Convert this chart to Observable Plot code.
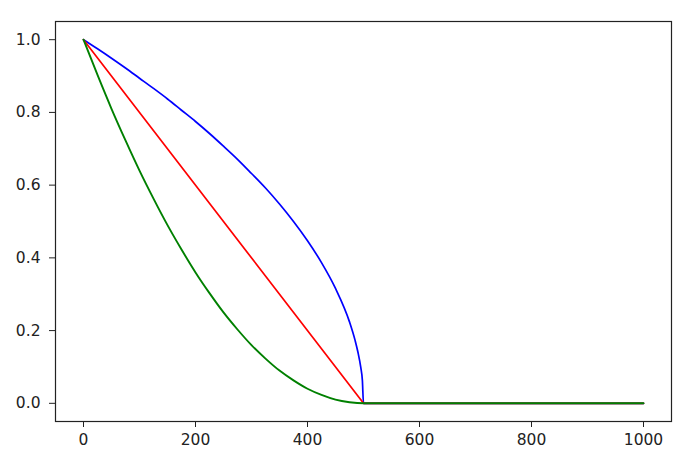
<!DOCTYPE html>
<html>
<head>
<meta charset="utf-8">
<script src="https://cdn.jsdelivr.net/npm/d3@7"></script>
<script src="https://cdn.jsdelivr.net/npm/@observablehq/plot@0.6"></script>
<style>
  html, body { margin: 0; padding: 0; background: #fff; }
</style>
</head>
<body>
<div id="chart"></div>
<script>
// Values
const blueX = [0, 25, 50, 75, 100, 125, 150, 175, 200, 225, 250, 275, 300, 325, 350, 375, 400, 425, 450, 475, 485, 490, 495, 498, 500, 1000];
const blueY = [1.000, 0.975, 0.949, 0.922, 0.894, 0.866, 0.837, 0.806, 0.775, 0.742, 0.707, 0.671, 0.632, 0.592, 0.548, 0.500, 0.447, 0.387, 0.316, 0.224, 0.173, 0.141, 0.100, 0.063, 0.000, 0.000];

const redX = [0, 500, 1000];
const redY = [1.00, 0.00, 0.00];

const greenX = [0, 25, 50, 75, 100, 125, 150, 175, 200, 225, 250, 275, 300, 325, 350, 375, 400, 425, 450, 475, 500, 1000];
const greenY = [1.000, 0.903, 0.810, 0.723, 0.640, 0.563, 0.490, 0.423, 0.360, 0.303, 0.250, 0.203, 0.160, 0.123, 0.090, 0.063, 0.040, 0.023, 0.010, 0.003, 0.000, 0.000];

const xTicks = [0, 200, 400, 600, 800, 1000];
const yTicks = [0.0, 0.2, 0.4, 0.6, 0.8, 1.0];

const toRows = (xs, ys) => xs.map((x, i) => ({x, y: ys[i]}));
const blue = toRows(blueX, blueY);
const red = toRows(redX, redY);
const green = toRows(greenX, greenY);

const chart = Plot.plot({
  width: 691,
  height: 466,
  marginLeft: 55,
  marginRight: 20,
  marginTop: 21,
  marginBottom: 45,
  style: { fontFamily: "DejaVu Sans", fontSize: "15.5px", color: "#222", background: "#fff" },
  x: { domain: [-50, 1050], label: null },
  y: { domain: [-0.05, 1.05], label: null },
  marks: [
    Plot.axisX({ ticks: xTicks, tickFormat: d => String(d), tickSize: 6, tickPadding: 6, label: null, stroke: "#222" }),
    Plot.axisY({ ticks: yTicks, tickFormat: d3.format(".1f"), tickSize: 6, tickPadding: 9, label: null, stroke: "#222" }),
    Plot.line(blue, { x: "x", y: "y", stroke: "#0000ff", strokeWidth: 1.7, curve: "monotone-x" }),
    Plot.line(red, { x: "x", y: "y", stroke: "#ff0000", strokeWidth: 1.7 }),
    Plot.line(green, { x: "x", y: "y", stroke: "#008000", strokeWidth: 1.9, curve: "monotone-x" }),
    Plot.frame({ stroke: "#222", strokeWidth: 1.2 })
  ]
});
document.getElementById("chart").appendChild(chart);
</script>
</body>
</html>
